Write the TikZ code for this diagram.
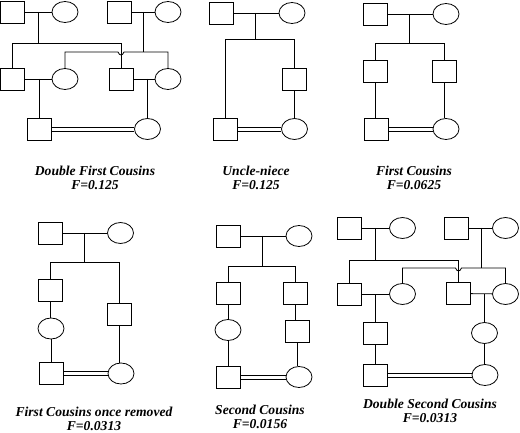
\documentclass[tikz,border=0pt]{standalone}
\usepackage{fontspec}
\setmainfont{Liberation Serif}
\usetikzlibrary{shapes.geometric,calc}
\tikzset{
  sq/.style={draw, rectangle, minimum width=24pt, minimum height=22pt, inner sep=0pt, line width=0.8pt},
  ov/.style={draw, ellipse, minimum width=26pt, minimum height=21pt, inner sep=0pt, line width=0.8pt},
  ln/.style={line width=0.8pt},
  captext/.style={align=center, font=\fontsize{13.6}{14.5}\selectfont\bfseries\itshape, inner sep=0pt}
}
\newcommand{\dblmarr}[2]{%
  \draw[ln] ($(#1.east)+(0,-2)$) -- ($(#2.west)+(0.3,-2)$);
  \draw[ln] ($(#1.east)+(0,2)$) -- ($(#2.west)+(0.3,2)$);}
\begin{document}
\begin{tikzpicture}[x=1pt,y=-1pt]
\useasboundingbox (0,0) rectangle (520,433);
% ---------- Panel 1: Double First Cousins
\node[sq] (a1) at (12.5,12) {};
\node[ov] (a2) at (65,12) {};
\node[sq] (a3) at (119,12) {};
\node[ov] (a4) at (168,12) {};
\node[sq] (a5) at (12.5,79) {};
\node[ov] (a6) at (65,79) {};
\node[sq] (a7) at (121,79) {};
\node[ov] (a8) at (168,79) {};
\node[sq] (a9) at (39,129) {};
\node[ov] (a10) at (147.5,129) {};
\coordinate (p1) at (38,12);
\coordinate (s1) at (38,43);
\coordinate (p2) at (143,12);
\coordinate (s2) at (143,52);
\draw[ln] (a1) -- (a2);
\draw[ln] (a3) -- (a4);
\draw[ln] (p1) -- (s1);
\draw[ln] (p2) -- (s2);
\draw[ln] (a5.north) -- (a5.north |- s1) -- (a7.north |- s1) -- (a7.north);
\draw[ln] (a6.north) -- (a6.north |- s2) -- ($(a7.north |- s2)+(-3,0)$)
  .. controls ($(a7.north |- s2)+(-1.5,4)$) and ($(a7.north |- s2)+(1.5,4)$) .. ($(a7.north |- s2)+(3,0)$)
  -- (a8.north |- s2) -- (a8.north);
\draw[ln] (a5) -- (a6);
\draw[ln] (a7) -- (a8);
\draw[ln] (a9.north |- a5) -- (a9.north);
\draw[ln] (a10.north |- a7) -- (a10.north);
\dblmarr{a9}{a10}
\node[captext] (t1) at (95,178) {Double First Cousins\\F=0.125};
% ---------- Panel 2: Uncle-niece
\node[sq] (b1) at (221,13) {};
\node[ov] (b2) at (292,13) {};
\node[sq] (b3) at (294,79) {};
\node[sq] (b4) at (225,129) {};
\node[ov] (b5) at (294.5,129) {};
\coordinate (p3) at (255,13);
\coordinate (s3) at (255,39);
\draw[ln] (b1) -- (b2);
\draw[ln] (p3) -- (s3);
\draw[ln] (b4.north) -- (b4.north |- s3) -- (b3.north |- s3) -- (b3.north);
\draw[ln] (b3.south) -- (b3.south |- b5.north);
\dblmarr{b4}{b5}
\node[captext] (t2) at (256,178) {Uncle-niece\\F=0.125};
% ---------- Panel 3: First Cousins
\node[sq] (c1) at (375.5,14) {};
\node[ov] (c2) at (446,14) {};
\node[sq] (c3) at (375.5,71) {};
\node[sq] (c4) at (444.5,71) {};
\node[sq] (c5) at (376,129) {};
\node[ov] (c6) at (446,129) {};
\coordinate (p4) at (409,14);
\coordinate (s4) at (409,43);
\draw[ln] (c1) -- (c2);
\draw[ln] (p4) -- (s4);
\draw[ln] (c3.north) -- (c3.north |- s4) -- (c4.north |- s4) -- (c4.north);
\draw[ln] (c3.south) -- (c3.south |- c5.north);
\draw[ln] (c4.south) -- (c4.south |- c6.north);
\dblmarr{c5}{c6}
\node[captext] (t3) at (414,178) {First Cousins\\F=0.0625};
% ---------- Panel 4: First Cousins once removed
\node[sq] (d1) at (50,233) {};
\node[ov] (d2) at (120.5,233) {};
\node[sq] (d3) at (50.5,290) {};
\node[ov] (d4) at (51,328.5) {};
\node[sq] (d5) at (51,373.5) {};
\node[sq] (d6) at (119.5,314.5) {};
\node[ov] (d7) at (121,373.5) {};
\coordinate (p5) at (84,233);
\coordinate (s5) at (84,262);
\draw[ln] (d1) -- (d2);
\draw[ln] (p5) -- (s5);
\draw[ln] (d3.north) -- (d3.north |- s5) -- (d6.north |- s5) -- (d6.north);
\draw[ln] (d3.south) -- (d3.south |- d4.north);
\draw[ln] (d4.south) -- (d4.south |- d5.north);
\draw[ln] (d6.south) -- (d6.south |- d7.north);
\dblmarr{d5}{d7}
\node[captext] (t4) at (94,419) {First Cousins once removed\\F=0.0313};
% ---------- Panel 5: Second Cousins
\node[sq] (e1) at (228,236) {};
\node[ov] (e2) at (299,236) {};
\node[sq] (e3) at (228,293) {};
\node[sq] (e4) at (295.5,293) {};
\node[ov] (e5) at (228,330) {};
\node[sq] (e6) at (297,331) {};
\node[sq] (e7) at (228.5,377) {};
\node[ov] (e8) at (299,377) {};
\coordinate (p6) at (262,236);
\coordinate (s6) at (262,266);
\draw[ln] (e1) -- (e2);
\draw[ln] (p6) -- (s6);
\draw[ln] (e3.north) -- (e3.north |- s6) -- (e4.north |- s6) -- (e4.north);
\draw[ln] (e3.south) -- (e3.south |- e5.north);
\draw[ln] (e5.south) -- (e5.south |- e7.north);
\draw[ln] (e4.south) -- (e4.south |- e6.north);
\draw[ln] (e6.south) -- (e6.south |- e8.north);
\dblmarr{e7}{e8}
\node[captext] (t5) at (260,417) {Second Cousins\\F=0.0156};
% ---------- Panel 6: Double Second Cousins
\node[sq] (f1) at (349.5,228) {};
\node[ov] (f2) at (402.5,228) {};
\node[sq] (f3) at (456,228) {};
\node[ov] (f4) at (505.5,228) {};
\node[sq] (f5) at (349.5,294) {};
\node[ov] (f6) at (402.5,294) {};
\node[sq] (f7) at (458.5,293.5) {};
\node[ov] (f8) at (505.5,294) {};
\node[sq] (f9) at (375.5,333) {};
\node[ov] (f10) at (484.5,333) {};
\node[sq] (f11) at (375.5,375) {};
\node[ov] (f12) at (485,375) {};
\coordinate (p7) at (375,228);
\coordinate (s7) at (375,260);
\coordinate (p8) at (481,228);
\coordinate (s8) at (481,268);
\draw[ln] (f1) -- (f2);
\draw[ln] (f3) -- (f4);
\draw[ln] (p7) -- (s7);
\draw[ln] (p8) -- (s8);
\draw[ln] (f5.north) -- (f5.north |- s7) -- (f7.north |- s7) -- (f7.north);
\draw[ln] (f6.north) -- (f6.north |- s8) -- ($(f7.north |- s8)+(-3,0)$)
  .. controls ($(f7.north |- s8)+(-1.5,4)$) and ($(f7.north |- s8)+(1.5,4)$) .. ($(f7.north |- s8)+(3,0)$)
  -- (f8.north |- s8) -- (f8.north);
\draw[ln] (f5) -- (f6);
\draw[ln] (f7) -- (f8);
\draw[ln] (f9.north |- f5) -- (f9.north);
\draw[ln] (f10.north |- f7) -- (f10.north);
\draw[ln] (f9.south) -- (f9.south |- f11.north);
\draw[ln] (f10.south) -- (f10.south |- f12.north);
\dblmarr{f11}{f12}
\node[captext] (t6) at (430,411) {Double Second Cousins\\F=0.0313};
\end{tikzpicture}
\end{document}
